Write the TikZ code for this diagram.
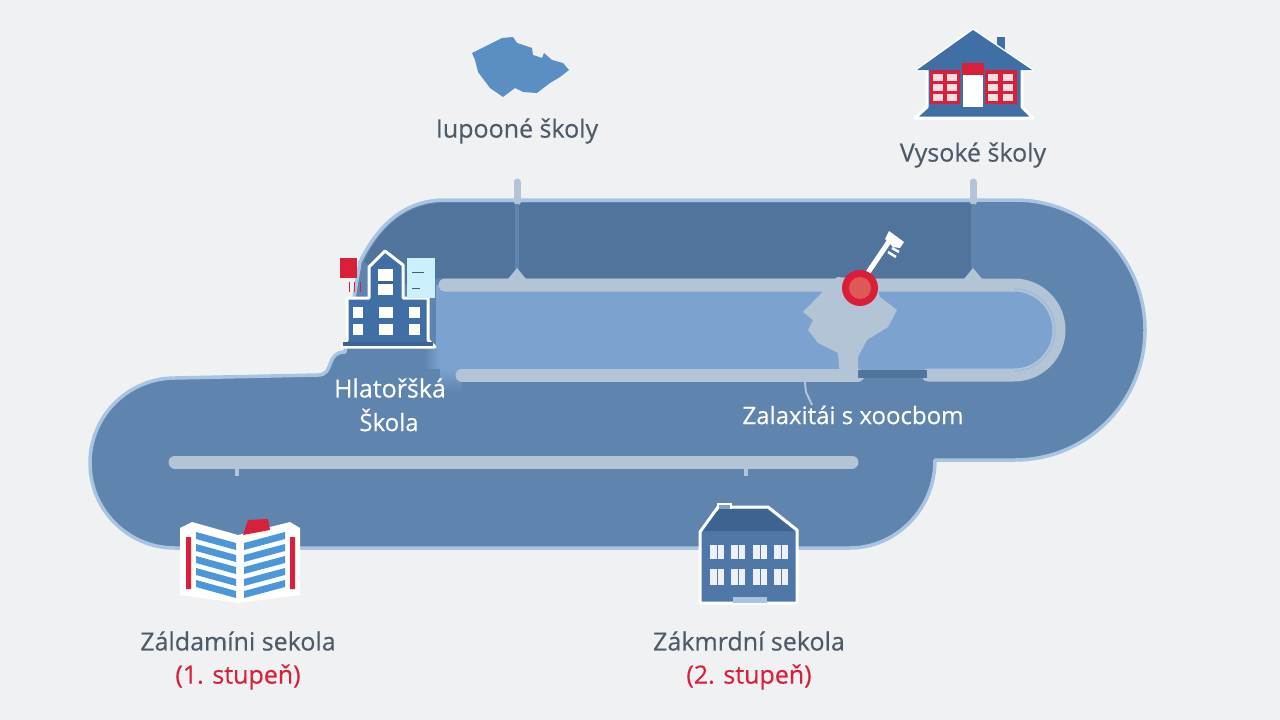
\documentclass[tikz,border=0pt]{standalone}
\usepackage{fontspec}
\setmainfont[FakeBold=0.35]{Open Sans}
\definecolor{paper}{HTML}{EFF1F3}
\definecolor{band}{HTML}{5F84AD}
\definecolor{banddark}{HTML}{50749C}
\definecolor{bandedge}{HTML}{A9C4E0}
\definecolor{inner}{HTML}{7CA3D0}
\definecolor{rail}{HTML}{B3C4D6}
\definecolor{stone}{HTML}{3F6FA5}
\definecolor{roof}{HTML}{3F6390}
\definecolor{wall}{HTML}{4F78A8}
\definecolor{alert}{HTML}{D9203A}
\definecolor{ink}{HTML}{4D5A68}
\definecolor{stripe}{HTML}{4C97D8}
\definecolor{mapblue}{HTML}{5B8FC4}
\tikzset{
	title/.style={text=ink, font=\fontsize{25}{28}\selectfont},
	grade/.style={text=alert, font=\fontsize{25}{28}\selectfont},
	onband/.style={text=white, font=\fontsize{24}{27}\selectfont},
	stub/.style={draw=rail, line width=7pt, line cap=round},
	halo/.style={draw=white, line width=3pt, line join=round},
}
\begin{document}
\begin{tikzpicture}[x=1pt, y=-1pt]
	\useasboundingbox (0,0) rectangle (1280,720);
	\fill[paper] (0,0) rectangle (1280,720);

	% outer band
	\draw[fill=band, draw=bandedge, line width=3.5pt, line join=round]
		(445,200) -- (1015,200) arc[start angle=-90, end angle=90, radius=130]
		-- (935,460) .. controls (935,510) and (895,548) .. (850,548)
		-- (175,548) arc[start angle=90, end angle=270, radius=85]
		-- (318,375) .. controls (335,375) and (325,352) .. (345,352)
		-- (360,262) .. controls (378,225) and (405,200) .. (445,200) -- cycle;

	% darker upper part
	\fill[banddark] (445,203) -- (972,203) -- (972,278) -- (440,278) -- (400,285)
		-- (364,262) .. controls (380,227) and (407,203) .. (445,203) -- cycle;

	% inner lane
	\fill[inner] (436,285) -- (1014,285) arc[start angle=-90, end angle=90, radius=45]
		-- (450,375) -- (450,368) -- (436,368) -- cycle;
	\shade[left color=band, right color=inner] (424,349) rectangle (440,368);
	\shade[top color=inner, bottom color=band] (440,368) rectangle (462,392);
	\draw[rail, line width=13pt, line cap=round] (445,285) -- (1014,285)
		arc[start angle=-90, end angle=90, radius=45] -- (928,375);
	\draw[rail, line width=13pt, line cap=round] (462,375) -- (858,375);
	\draw[bandedge!70!inner, line width=1.2pt] (1014,289) arc[start angle=-90, end angle=90, radius=41];
	\fill[banddark] (858,370) rectangle (927,378);
	\draw[rail, line width=13pt, line cap=round] (175,462) -- (852,462);

	% dividers and ticks
	\foreach \x in {517,973}{
		\draw[stub] (\x,182) -- (\x,202);
		\draw[band, line width=4pt] (\x,204) -- (\x,278);
		\fill[rail] (\x-9,279) -- (\x,268) -- (\x+9,279) -- cycle;
	}
	\foreach \x in {237,746}{
		\draw[rail, line width=4pt] (\x,466) -- (\x,476);
	}
	\draw[rail, line width=2pt] (804,375) -- (806,392) -- (812,405);

	% map on the lane
	\fill[rail] (837,277) -- (803,312) -- (813,320) -- (808,330) -- (818,343) -- (838,353)
		-- (840,377) -- (858,377) -- (858,357) -- (867,340) -- (888,327) -- (897,310)
		-- (880,297) -- (875,280) -- cycle;

	% key and pin
	\draw[white, line width=5pt] (867,274) -- (890,240);
	\fill[white] (885,239) -- (889,231) -- (904,242) -- (900,248) -- (893,247) -- cycle;
	\draw[white, line width=2.5pt] (892,248) -- (899,252);
	\draw[white, line width=2.5pt] (888,252) -- (896,257);
	\fill[alert!95!red] (860,288) circle (18);
	\fill[red!60!paper!90!black] (860,288) circle (11);

	% map at the top
	\fill[mapblue] (472,53) -- (482,48) -- (502,38) -- (513,37) -- (517,43) -- (532,48)
		-- (533,55) -- (542,58) -- (544,53) -- (552,60) -- (563,63) -- (569,70) -- (560,77)
		-- (550,83) -- (537,93) -- (523,92) -- (515,88) -- (503,97) -- (490,88) -- (478,72)
		-- (475,60) -- cycle;

	% university
	\fill[stone] (997,50) rectangle (1005,37);
	\draw[halo, fill=stone] (973,30) -- (1032,70) -- (1022,70) -- (1022,107) -- (1033,118)
		-- (915,118) -- (927,107) -- (927,70) -- (917,70) -- cycle;
	\fill[stone] (973,30) -- (1032,70) -- (917,70) -- cycle;
	\fill[alert] (930,70) rectangle (960,104) (985,70) rectangle (1017,104) (962,63) rectangle (984,76);
	\fill[white] (963,75) rectangle (983,107);
	\foreach \x in {933,947,988,1003}{
		\foreach \y in {74,84,94}{
			\fill[white!85!alert] (\x,\y) rectangle ++(10,7);
		}
	}

	% secondary school
	\draw[halo, fill=stone] (342,347) -- (347,340) -- (347,298) -- (369,298) -- (369,267)
		-- (385,251) -- (403,265) -- (403,298) -- (428,298) -- (428,340) -- (435,347) -- cycle;
	\fill[cyan!20!white] (407,258) rectangle (435,298);
	\fill[alert] (340,258) rectangle (357,278);
	\draw[alert, line width=1pt] (349,282) -- (349,292) (354,282) -- (354,292) (360,282) -- (360,292);
	\draw[ink, line width=1pt] (412,272) -- (424,272) (412,288) -- (420,288);
	\fill[roof] (343,342) rectangle (433,346);
	\fill[white] (378,269) rectangle (393,295);
	\fill[roof] (378,281) rectangle (393,284);
	\foreach \x/\w in {353/10,379/14,409/11}{
		\foreach \y in {307,324}{
			\fill[white] (\x,\y) rectangle ++(\w,11);
		}
	}

	% open book
	\fill[white] (180,528) -- (192,522) -- (238,535) -- (290,522) -- (300,528) -- (300,595)
		-- (238,603) -- (180,595) -- cycle;
	\fill[alert] (243,535) -- (248,520) -- (268,519) -- (270,530) -- cycle;
	\fill[alert] (186,537) rectangle (191,589) (290,537) rectangle (295,589);
	\foreach \i in {0,12,24,36,48}{
		\fill[stripe] (196,532+\i) -- (236,543+\i) -- (236,550+\i) -- (196,539+\i) -- cycle;
		\fill[stripe] (244,543+\i) -- (285,532+\i) -- (285,539+\i) -- (244,550+\i) -- cycle;
	}

	% primary school
	\draw[halo, fill=wall] (700,532) -- (718,507) -- (768,507) -- (797,530) -- (797,603) -- (700,603) -- cycle;
	\draw[draw=white, line width=2pt, fill=wall!70!white] (718,504) rectangle (731,518);
	\fill[roof] (703,531) -- (719,509) -- (767,509) -- (794,531) -- cycle;
	\foreach \x in {710,731,753,774}{
		\foreach \y/\h in {545/14,569/16}{
			\fill[white!90!wall] (\x,\y) rectangle ++(14,\h);
			\draw[wall, line width=1pt] (\x+7,\y) -- ++(0,\h);
		}
	}
	\fill[bandedge] (733,597) rectangle (767,603);

	% labels
	\node[title] (upper) at (517,131) {Iupooné školy};
	\node[title] (vysoke) at (973,155) {Vysoké školy};
	\node[onband, font=\fontsize{25}{27}\selectfont] (hist1) at (390,388) {Hlatořšká};
	\node[onband] (hist2) at (389,420) {Škola};
	\node[onband] (lane) at (853,415) {Zalaxitái s xoocbom};
	\node[title] (zak1) at (238,641) {Záldamíni sekola};
	\node[grade] (st1) at (238,677) {(1. stupeň)};
	\node[title] (zak2) at (749,641) {Zákmrdní sekola};
	\node[grade] (st2) at (749,677) {(2. stupeň)};
\end{tikzpicture}
\end{document}
